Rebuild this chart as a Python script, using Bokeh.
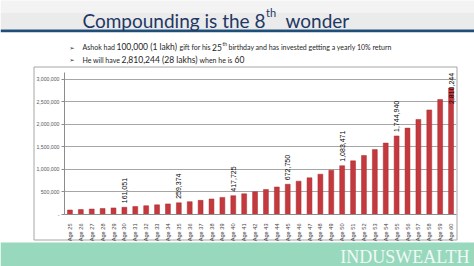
from math import pi

from bokeh.core.properties import value
from bokeh.embed import file_html
from bokeh.layouts import GridBox
from bokeh.models import (ColumnDataSource, FactorRange, FixedTicker, Label,
                          NumeralTickFormatter, Range1d)
from bokeh.plotting import figure
from bokeh.resources import INLINE

# --- data -------------------------------------------------------------------
ages = [f"Age {a}" for a in range(25, 61)]
corpus = [
    100000, 110000, 121000, 133100, 146410, 161051, 177156, 194872, 214359,
    235795, 259374, 285312, 313843, 345227, 379750, 417725, 459497, 505447,
    555992, 611591, 672750, 740025, 814027, 895430, 984973, 1083471, 1191818,
    1310999, 1442099, 1586309, 1744940, 1919434, 2111378, 2322515, 2554767,
    2810244,
]
labelled_ages = ["Age 30", "Age 35", "Age 40", "Age 45", "Age 50", "Age 55", "Age 60"]
y_ticks = [0, 500000, 1000000, 1500000, 2000000, 2500000, 3000000]
y_tick_labels = ["-", "500,000", "1,000,000", "1,500,000", "2,000,000", "2,500,000", "3,000,000"]

W, H = 474, 266
FRAME_L, FRAME_R, FRAME_T, FRAME_B = 64, 456, 72, 214
PAGE_SHIFT = 5  # the backdrop canvas sits this many pixels lower in the grid cell

# --- slide backdrop: bands, border, headline and bullet text (pixel coords) --
page = figure(frame_width=W, frame_height=H, x_range=Range1d(0, W),
              y_range=Range1d(H + PAGE_SHIFT, PAGE_SHIFT),
              min_border=0, x_axis_type=None, y_axis_type=None,
              output_backend="svg", toolbar_location=None)
try:
    page.title = None
except Exception:
    page.title.visible = False
page.outline_line_color = None
page.background_fill_color = None
page.border_fill_color = "#f3f3f3"
page.xgrid.visible = False
page.ygrid.visible = False
page.align = "start"

# header band and rule
page.quad(left=0, right=W, top=0, bottom=17, fill_color="#f3f3f3", line_color=None)
page.quad(left=0, right=W, top=17, bottom=34, fill_color="#ebebeb", line_color=None)
page.quad(left=0, right=W, top=34, bottom=36.5, fill_color="#1f4e79", line_color=None)
page.quad(left=0, right=W, top=36.5, bottom=37.5, fill_color="#c9d3de", line_color=None)
# white slide body
page.quad(left=0, right=W, top=37.5, bottom=247, fill_color="white", line_color=None)
# chart border
page.quad(left=33.5, right=456.5, top=71.5, bottom=244.5, fill_color=None,
          line_color="#a6a6a6", line_width=1)
# footer band
page.quad(left=0, right=W, top=247, bottom=H + PAGE_SHIFT, fill_color="#98d8bd", line_color=None)


def label(px, py, text, size, font="Lato", color="#262626", align="left"):
    page.add_layout(Label(x=px, y=py, text=text, text_font=font, text_font_size=size,
                          text_color=color, text_align=align, text_baseline="alphabetic"))


label(469, 261, "INDUSWEALTH", "18px", font="Liberation Serif", color="#f0faf5", align="right")

navy = "#1f3864"
label(265, 25, "Compounding is the 8", "19px", color=navy, align="right")
label(265.5, 17, "th", "11px", color=navy)
label(285, 25, "wonder", "19px", color=navy)

label(69, 51.5, "\u27a2", "6px", font="DejaVu Sans", color="#1a1a1a")
label(69, 64, "\u27a2", "6px", font="DejaVu Sans", color="#1a1a1a")

small, large = "7px", "8.5px"
label(82, 51.5, "Ashok had", small)
label(116, 51.5, "100,000 (1 lakh)", large)
label(179, 51.5, "gift for his", small)
label(211.5, 51.5, "25", large)
label(222, 48.5, "th", "5px")
label(228, 51.5, "birthday and has invested  getting  a yearly 10% return", small)

label(82, 64, "He will have", small)
label(121, 64, "2,810,244 (28 lakhs)", large)
label(199, 64, "when he is", small)
label(234, 64, "60", large)

# --- bar chart ----------------------------------------------------------------
p = figure(
    x_range=FactorRange(*ages),
    y_range=Range1d(0, 3155000),
    width=W, height=H,
    min_border_left=FRAME_L, min_border_right=W - FRAME_R,
    min_border_top=FRAME_T, min_border_bottom=H - FRAME_B,
    output_backend="svg", toolbar_location=None,
)
p.outline_line_color = None
p.background_fill_color = None
p.border_fill_color = None
p.align = "start"

p.vbar(x=ages, top=corpus, width=0.45, fill_color="#c4393d", line_color="#a82c30", line_width=0.5)

lab_val = [corpus[ages.index(a)] for a in labelled_ages]
lab_off = [-4] * (len(labelled_ages) - 1) + [16]
src = ColumnDataSource(dict(x=labelled_ages, y=lab_val,
                            text=[f"{v:,}" for v in lab_val], dy=lab_off))
p.text(x="x", y="y", text="text", source=src, angle=pi / 2, y_offset="dy",
       text_align="left", text_baseline="middle",
       text_font=value("Liberation Sans"), text_font_size="7px", text_color="black")

p.yaxis.ticker = FixedTicker(ticks=y_ticks)
p.yaxis.formatter = NumeralTickFormatter(format="0,0")
p.yaxis.major_label_overrides = dict(zip(y_ticks, y_tick_labels))
p.yaxis.major_label_text_font = "Liberation Sans"
p.yaxis.major_label_text_font_size = "5.2px"
p.yaxis.major_label_text_color = "#595959"
p.yaxis.axis_line_color = "#8c8c8c"
p.yaxis.major_tick_line_color = "#8c8c8c"
p.yaxis.major_tick_out = 3
p.yaxis.major_tick_in = 0
p.yaxis.minor_tick_line_color = None
p.yaxis.major_label_standoff = 2

p.xaxis.major_label_orientation = pi / 2
p.xaxis.major_label_text_font = "Liberation Sans"
p.xaxis.major_label_text_font_size = "5.6px"
p.xaxis.major_label_text_color = "#404040"
p.xaxis.axis_line_color = "#8c8c8c"
p.xaxis.major_tick_line_color = None
p.xaxis.major_label_standoff = 3

p.xgrid.grid_line_color = None
p.ygrid.ticker = FixedTicker(ticks=y_ticks)
p.ygrid.grid_line_color = "#a6a6a6"

# keep each figure's own frame; the two share one grid cell (chart on top)
page.frame_align = False
p.frame_align = False
layout = GridBox(children=[(page, 0, 0), (p, 0, 0)])

open("out.html", "w").write(file_html(layout, INLINE))
